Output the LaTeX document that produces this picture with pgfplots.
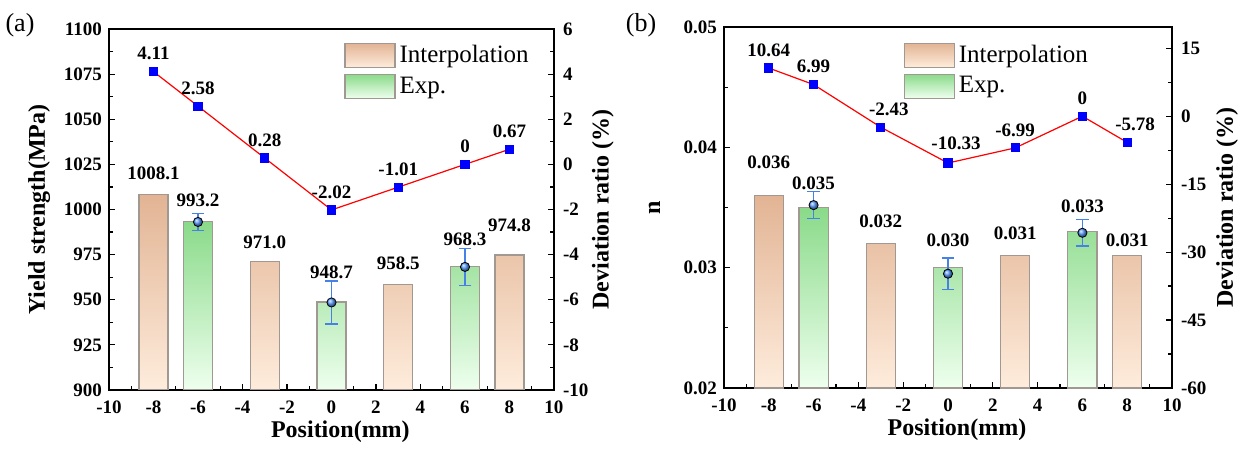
\documentclass[border=0pt]{standalone}
\usepackage{pgfplots}
\usepackage{pgfplotstable}
\pgfplotsset{compat=1.18}
\usepackage{fontspec}
\setmainfont{Liberation Serif}
\definecolor{intTop}{RGB}{226,180,148}
\definecolor{intBot}{RGB}{254,236,220}
\definecolor{expTop}{RGB}{138,218,138}
\definecolor{expBot}{RGB}{238,255,238}
\definecolor{barEdge}{RGB}{160,152,145}
\definecolor{errBlue}{RGB}{70,130,230}
\definecolor{markBlue}{RGB}{0,0,255}
\definecolor{ballBlue}{RGB}{90,155,255}
\newcommand{\tfont}{\bfseries\fontsize{9.5}{11}\selectfont}
\newcommand{\lfont}{\bfseries\fontsize{12}{14}\selectfont}

% panel (a)
\pgfplotstableread{
x y
-8 1008.1
-3 971.0
3 958.5
8 974.8
}\aInterp
\pgfplotstableread{
x y
-6 993.2
0 948.7
6 968.3
}\aExp
\pgfplotstableread{
x y e
-6 993.1 4.8
0 948.5 11.9
6 968.2 10.3
}\aErr
\pgfplotstableread{
x y
-8 4.11
-6 2.58
-3 0.28
0 -2.02
3 -1.01
6 0
8 0.67
}\aDev
% panel (b)
\pgfplotstableread{
x y
-8 0.036
-3 0.032
3 0.031
8 0.031
}\bInterp
\pgfplotstableread{
x y
-6 0.035
0 0.030
6 0.033
}\bExp
\pgfplotstableread{
x y e
-6 0.0352 0.0011
0 0.0295 0.0013
6 0.0329 0.0011
}\bErr
\pgfplotstableread{
x y
-8 10.64
-6 6.99
-3 -2.43
0 -10.33
3 -6.99
6 0
8 -5.78
}\bDev

\pgfplotsset{
  base/.style={
    scale only axis, height=180.5pt,
    xmin=-10, xmax=10,
    tick align=inside,
    major tick length=3pt, minor tick length=2pt,
    every tick/.style={black, line width=0.6pt},
    axis line style={black, line width=0.7pt},
    ticklabel style={font=\tfont},
    /pgf/number format/assume math mode=true,
    /pgf/number format/1000 sep={},
  },
  leftax/.style={
    base,
    xtick={-10,-8,...,10}, minor x tick num=1,
    xtick pos=left, ytick pos=left,
    minor y tick num=1,
    xticklabel style={yshift=-2pt},
    xlabel={Position(mm)},
    xlabel style={font=\lfont, at={(axis description cs:0.52,-0.116)}, anchor=center},
    ylabel style={font=\lfont, anchor=center},
    legend style={draw=none, fill=none, font=\fontsize{12.5}{14}\selectfont, row sep=1.5pt,
      inner sep=0pt, cells={anchor=west}, anchor=north west},
  },
  rightax/.style={
    base,
    axis x line=none, axis y line*=right,
    minor y tick num=1,
    ylabel={Deviation ratio (\%)},
    ylabel style={font=\lfont, anchor=center},
    yticklabel style={xshift=1pt},
  },
  interp/.style={ybar, bar width=1.3, bar shift=0pt, draw=barEdge, line width=0.6pt,
      top color=intTop, bottom color=intBot},
  expb/.style={ybar, bar width=1.3, bar shift=0pt, draw=barEdge, line width=0.6pt,
      top color=expTop, bottom color=expBot},
  errp/.style={only marks, mark=ball, ball color=ballBlue, mark size=2.3pt,
      error bars/.cd, y dir=both, y explicit,
      error bar style={errBlue, line width=0.6pt},
      error mark options={errBlue, rotate=90, mark size=3.2pt, line width=0.6pt}},
  devline/.style={red, line width=0.6pt, mark=square*, mark size=2pt,
      mark options={fill=markBlue, draw=markBlue, solid}},
  lgI/.style={legend image code/.code={\draw[draw=barEdge, line width=0.6pt, top color=intTop, bottom color=intBot] (0pt,-6pt) rectangle (25pt,6pt);}},
  lgE/.style={legend image code/.code={\draw[draw=barEdge, line width=0.6pt, top color=expTop, bottom color=expBot] (0pt,-6pt) rectangle (25pt,6pt);}},
}

\begin{document}
\begin{tikzpicture}
\path[use as bounding box] (0,0) rectangle (624pt,227.5pt);

% ===================== (a) =====================
\begin{axis}[leftax, at={(54.5pt,32.5pt)}, anchor=south west, width=222.5pt,
  ymin=900, ymax=1100, ytick={900,925,...,1100},
  ylabel={Yield strength(MPa)},
  ylabel style={at={(axis description cs:-0.157,0.5)}},
  legend style={at={(axis description cs:0.528,0.967)}},
]
\addplot[interp, lgI] table[x=x,y=y] {\aInterp};
\addlegendentry{Interpolation}
\addplot[expb, lgE] table[x=x,y=y] {\aExp};
\addlegendentry{Exp.}
\addplot[errp] table[x=x,y=y,y error=e] {\aErr};
\begin{scope}[every node/.style={font=\tfont, anchor=center}]
\node at (axis cs:-8,1020.2) {1008.1};
\node at (axis cs:-6,1005.3) {993.2};
\node at (axis cs:-3,982.0) {971.0};
\node at (axis cs:0,965.4) {948.7};
\node at (axis cs:3,970.4) {958.5};
\node at (axis cs:6,983.7) {968.3};
\node at (axis cs:8,991.4) {974.8};
\end{scope}
\end{axis}
\begin{axis}[rightax, at={(54.5pt,32.5pt)}, anchor=south west, width=222.5pt,
  ymin=-10, ymax=6, ytick={-10,-8,...,6},
  ylabel style={at={(axis description cs:1.110,0.5)}},
]
\addplot[devline] table[x=x,y=y] {\aDev};
\begin{scope}[every node/.style={font=\tfont, anchor=center, yshift=9pt}]
\node at (axis cs:-8,4.11) {4.11};
\node at (axis cs:-6,2.58) {2.58};
\node at (axis cs:-3,0.28) {0.28};
\node at (axis cs:0,-2.02) {-2.02};
\node at (axis cs:3,-1.01) {-1.01};
\node at (axis cs:6,0) {0};
\node at (axis cs:8,0.67) {0.67};
\end{scope}
\end{axis}

% ===================== (b) =====================
\begin{axis}[leftax, at={(362pt,33.5pt)}, anchor=south west, width=224pt,
  ymin=0.02, ymax=0.05, ytick={0.02,0.03,0.04,0.05},
  scaled y ticks=false,
  yticklabel style={/pgf/number format/fixed, /pgf/number format/precision=2, /pgf/number format/fixed zerofill},
  ylabel={n},
  ylabel style={at={(axis description cs:-0.155,0.5)}},
  legend style={at={(axis description cs:0.40,0.962)}},
]
\addplot[interp, lgI] table[x=x,y=y] {\bInterp};
\addlegendentry{Interpolation}
\addplot[expb, lgE] table[x=x,y=y] {\bExp};
\addlegendentry{Exp.}
\addplot[errp] table[x=x,y=y,y error=e] {\bErr};
\begin{scope}[every node/.style={font=\tfont, anchor=center}]
\node at (axis cs:-8,0.03872) {0.036};
\node at (axis cs:-6,0.0370) {0.035};
\node at (axis cs:-3,0.03382) {0.032};
\node at (axis cs:0,0.03224) {0.030};
\node at (axis cs:3,0.03286) {0.031};
\node at (axis cs:6,0.03507) {0.033};
\node at (axis cs:8,0.0323) {0.031};
\end{scope}
\end{axis}
\begin{axis}[rightax, at={(362pt,33.5pt)}, anchor=south west, width=224pt,
  ymin=-60, ymax=19.7, ytick={-60,-45,...,15},
  ylabel style={at={(axis description cs:1.123,0.5)}},
]
\addplot[devline] table[x=x,y=y] {\bDev};
\begin{scope}[every node/.style={font=\tfont, anchor=center, yshift=9pt}]
\node at (axis cs:-8,10.64) {10.64};
\node at (axis cs:-6,6.99) {6.99};
\node[xshift=4pt] at (axis cs:-3,-2.43) {-2.43};
\node[xshift=4pt, yshift=1pt] at (axis cs:0,-10.33) {-10.33};
\node at (axis cs:3,-6.99) {-6.99};
\node at (axis cs:6,0) {0};
\node[xshift=4pt] at (axis cs:8,-5.78) {-5.78};
\end{scope}
\end{axis}

\node[font=\fontsize{13}{15}\selectfont] at (10pt,215pt) {(a)};
\node[font=\fontsize{13}{15}\selectfont] at (320.5pt,215pt) {(b)};
\end{tikzpicture}
\end{document}
